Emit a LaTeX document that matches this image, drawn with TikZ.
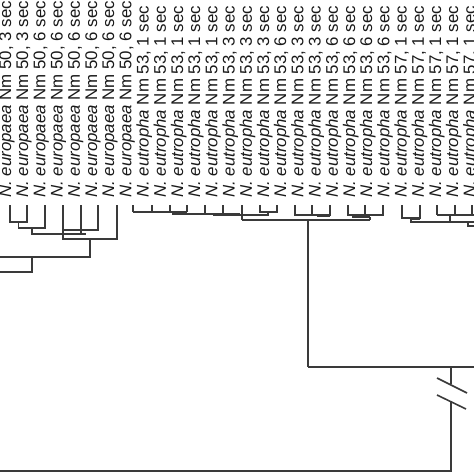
\documentclass[tikz,border=0pt]{standalone}
\usepackage{fontspec}
\setmainfont{Liberation Sans}
\usepackage{tikz}
\definecolor{treecol}{HTML}{3A3A3A}

\begin{document}
\begin{tikzpicture}[x=1pt, y=-1pt,
  branch/.style={treecol, line width=1.6pt},
  heavy/.style={treecol, line width=2.6pt},
  leaflabel/.style={rotate=90, anchor=base west, inner sep=0pt, text=black!90,
    font=\fontsize{16.85}{18}\selectfont}]
\useasboundingbox (0,0) rectangle (474,474);
\clip (0,0) rectangle (474,474);

% strain labels, read bottom to top
\foreach \i/\sp/\nm/\tm in {0/europaea/50/3, 1/europaea/50/3, 2/europaea/50/6, 3/europaea/50/6,
  4/europaea/50/6, 5/europaea/50/6, 6/europaea/50/6, 7/europaea/50/6,
  8/eutropha/53/1, 9/eutropha/53/1, 10/eutropha/53/1, 11/eutropha/53/1, 12/eutropha/53/1,
  13/eutropha/53/3, 14/eutropha/53/3, 15/eutropha/53/3, 16/eutropha/53/6, 17/eutropha/53/3,
  18/eutropha/53/3, 19/eutropha/53/6, 20/eutropha/53/6, 21/eutropha/53/6, 22/eutropha/53/6,
  23/eutropha/57/1, 24/eutropha/57/1, 25/eutropha/57/1, 26/eutropha/57/1, 27/eutropha/57/1}{
  \node[leaflabel] (lab\i) at (11+17.2*\i,198) {\textit{N. \sp} Nm \nm, \tm\ sec};
}

% N. europaea cluster
\draw[branch] (10,205) -- (10,222) -- (27,222) -- (27,205);
\draw[branch] (18.5,222) -- (18.5,228) -- (45,228) -- (45,205);
\draw[branch] (32,228) -- (32,234) -- (86,234);
\draw[branch] (81,205) -- (81,234);
\draw[branch] (63,205) -- (63,239) -- (117,239) -- (117,205);
\draw[branch] (63,230) -- (98,230) -- (98,205);
\draw[branch] (90,239) -- (90,257) -- (-5,257);
\draw[branch] (32,257) -- (32,272) -- (-5,272);

% N. eutropha Nm 53, left part
\foreach \x in {133,152,170,187}{
  \draw[branch] (\x,205) -- (\x,212);
}
\draw[branch] (133,212) -- (187,212);
\draw[heavy] (172,213.5) -- (187,213.5);
\draw[branch] (205,205) -- (205,214);
\draw[branch] (223,205) -- (223,214);
\draw[branch] (180,214) -- (240,214);
\draw[heavy] (213,215) -- (240,215);
\draw[branch] (242,205) -- (242,220);
\draw[branch] (260,205) -- (260,212) -- (277,212) -- (277,205);
\draw[branch] (268,212) -- (268,215) -- (240,215);

% N. eutropha Nm 53, right part
\draw[branch] (295,205) -- (295,215) -- (330,215) -- (330,205);
\draw[branch] (312,205) -- (312,215);
\draw[heavy] (317,216) -- (330,216);
\draw[branch] (348,205) -- (348,215);
\draw[branch] (365,205) -- (365,217);
\draw[branch] (383,205) -- (383,215) -- (347,215);
\draw[heavy] (352,217) -- (370,217);
\draw[branch] (370,217) -- (370,220);
\draw[branch] (242,220) -- (370,220);
\draw[branch] (308,220) -- (308,367);

% N. eutropha Nm 57
\draw[branch] (402,205) -- (402,218) -- (420,218) -- (420,205);
\draw[heavy] (410,219) -- (420,219);
\foreach \x in {437,455,472}{
  \draw[branch] (\x,205) -- (\x,215);
}
\draw[branch] (437,215) -- (476,215);
\draw[branch] (450,215) -- (450,222);
\draw[branch] (411,219) -- (411,222) -- (476,222);
\draw[branch] (468,222) -- (468,226) -- (476,226);

% root with broken branch
\draw[branch] (308,367) -- (476,367);
\draw[branch] (451,367) -- (451,384);
\draw[branch] (437,378) -- (467,393);
\draw[branch] (437,395) -- (466,409);
\draw[branch] (451,402) -- (451,471) -- (-5,471);
\end{tikzpicture}
\end{document}
